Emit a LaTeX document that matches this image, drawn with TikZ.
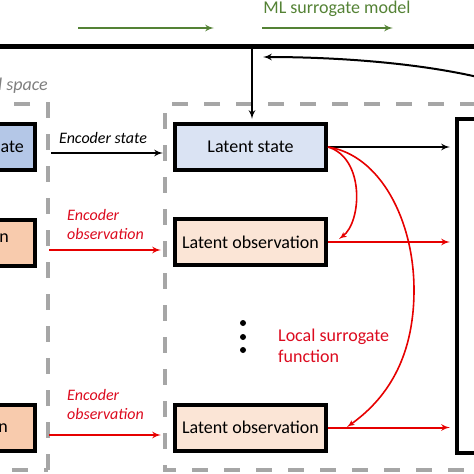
\documentclass[tikz,border=0pt]{standalone}
\usepackage{fontspec}
\setmainfont{Carlito}
\usetikzlibrary{arrows,positioning,calc}

\definecolor{mlgreen}{HTML}{548235}
\definecolor{surrred}{HTML}{E60000}
\definecolor{labelred}{HTML}{DC0A1E}
\definecolor{dashgray}{HTML}{A6A6A6}
\definecolor{spacegray}{HTML}{7F7F7F}
\definecolor{pblue}{HTML}{B4C7E7}
\definecolor{lblue}{HTML}{DAE3F3}
\definecolor{porange}{HTML}{F8CBAD}
\definecolor{lorange}{HTML}{FBE5D6}

\begin{document}
\begin{tikzpicture}[
        x=1pt, y=-1pt,
        box/.style={draw=black, line width=4pt, minimum width=151pt,
            minimum height=46pt, inner sep=0pt,
            font=\fontsize{18}{21}\selectfont},
        frag/.style={inner sep=0pt, font=\fontsize{18}{21}\selectfont},
        space/.style={dashgray, line width=4pt, dash pattern=on 16pt off 16pt},
        bus/.style={black, line width=5pt},
        mlarrow/.style={mlgreen, line width=2pt, ->, >=latex'},
        link/.style={black, line width=2pt, ->, >=latex'},
        obs/.style={surrred, line width=2pt, ->, >=latex'},
        surr/.style={surrred, line width=1.6pt, ->, >=latex'},
        enc/.style={inner sep=0pt, align=left,
            font=\fontsize{16}{19.5}\selectfont\itshape},
        dot/.style={circle,fill=black,minimum size=6pt,inner sep=0pt},
    ]
    \useasboundingbox (0,0) rectangle (474,474);
    % spaces
    \draw[space] (48,470) -- (48,104) -- (-20,104);
    \draw[space] (-20,470) -- (48,470);
    \draw[space] (540,104) -- (165,104) -- (165,470) -- (540,470);
    \node[frag, anchor=base east, text=spacegray, font=\fontsize{18}{21}\selectfont\itshape]
        at (48,90) (spacelabel) {l space};

    % surrogate model bus
    \draw[bus] (-10,46) coordinate (bus_w) -- (490,46) coordinate (bus_e);
    \draw[mlarrow] (78,28) coordinate (ml_a) -- (214,28) coordinate (ml_b);
    \draw[mlarrow] (262,28) coordinate (ml_c) -- (393,28) coordinate (ml_d);
    \node[frag, anchor=base, text=mlgreen] at (337,13) (mllabel) {ML surrogate model};

    % boxes
    \node[box, fill=pblue] at (-40.5,147) (pstate) {};
    \node[box, fill=porange] at (-40.5,243) (pobs1) {};
    \node[box, fill=porange] at (-40.5,427.5) (pobs2) {};
    \node[frag, anchor=base east] at (24,152) (pstate_t) {ate};
    \node[frag, anchor=base east] at (9,242) (pobs1_t) {n};
    \node[frag, anchor=base east] at (8,432) (pobs2_t) {n};

    \node[box, fill=lblue] at (250.5,147) (lstate) {Latent state};
    \node[box, fill=lorange] at (250.5,242) (lobs1) {Latent observation};
    \node[box, fill=lorange] at (250.5,427.5) (lobs2) {Latent observation};
    \node[box, fill=white, minimum width=90pt, minimum height=334pt,
        anchor=north west] at (455,117) (outbox) {};

    % encoders
    \draw[link] ([shift={(14,6)}]pstate.east) -- ([shift={(-10,6)}]lstate.west);
    \draw[obs] ([shift={(12,7)}]pobs1.east) -- ([shift={(-12,8)}]lobs1.west);
    \draw[obs] ([shift={(12,7.5)}]pobs2.east) -- ([shift={(-12,7.5)}]lobs2.west);
    \node[enc, anchor=base] at (103,143) (encstate) {Encoder state};
    \node[enc, anchor=south west, text=labelred] at (67,240) (encobs1) {Encoder\\observation};
    \node[enc, anchor=south west, text=labelred] at (67,420) (encobs2) {Encoder\\observation};

    % bus in and out
    \coordinate (busdrop) at (252,46);
    \draw[link, shorten >=3pt] (busdrop) -- (busdrop |- lstate.north);
    \coordinate (fb) at (490,80);
    \coordinate (fbend) at (263,57);
    \draw[link] (fb) .. controls (420,62) and (330,57) .. (fbend);

    % to the output box
    \draw[link, shorten >=5pt] (lstate.east) -- (lstate.east -| outbox.west);
    \draw[obs, shorten >=5pt] (lobs1.east) -- (lobs1.east -| outbox.west);
    \draw[obs, shorten >=5pt] (lobs2.east) -- (lobs2.east -| outbox.west);

    % local surrogate functions
    \coordinate (tip1) at (339,239);
    \coordinate (tip2) at (347,427);
    \draw[surr] (lstate.east) .. controls (365,158) and (362,222) .. (tip1);
    \draw[surr] (lstate.east) .. controls (380,155) and (414,220) .. (414,290)
        .. controls (414,360) and (385,400) .. (tip2);
    \node[frag, anchor=south west, align=left, text=labelred,
        font=\fontsize{18}{21.6}\selectfont] at (278,363) (localsurr) {Local surrogate\\function};
    \foreach \y in {323,337,350}
        \node[dot] at (243,\y) (dot\y) {};
\end{tikzpicture}
\end{document}
